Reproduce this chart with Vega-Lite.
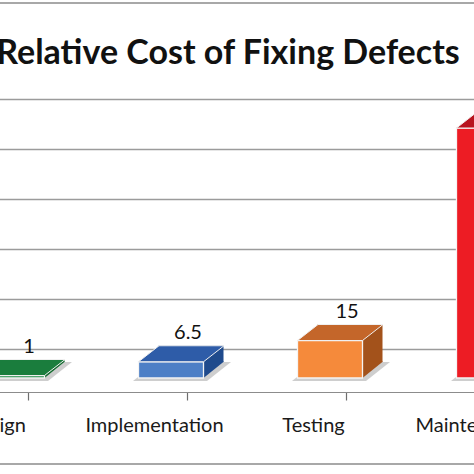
{
  "$schema": "https://vega.github.io/schema/vega-lite/v6.json",
  "width": 474,
  "height": 300,
  "autosize": {"type": "none"},
  "padding": {"top": 99, "left": 0, "right": 0, "bottom": 75},
  "background": "#ffffff",
  "config": {"view": {"stroke": null}, "font": "Lato"},
  "title": {
    "text": "Relative Cost of Fixing Defects",
    "font": "Lato",
    "fontSize": 34,
    "fontWeight": "bold",
    "color": "#111111",
    "anchor": "middle",
    "frame": "group",
    "baseline": "alphabetic",
    "offset": 0,
    "dy": 96,
    "dx": -9
  },
  "data": {
    "values": [
      {"stage": "Design", "cost": 1},
      {"stage": "Implementation", "cost": 6.5},
      {"stage": "Testing", "cost": 15},
      {"stage": "Maintenance", "cost": 100}
    ]
  },
  "resolve": {"scale": {"color": "independent"}},
  "layer": [
    {
      "mark": {"type": "point", "shape": "M -38 3 L 36 3 L 60 -16 L -14 -16 Z", "size": 4, "filled": true, "opacity": 0.9, "color": "#c9c9c9", "strokeWidth": 0, "xOffset": 17, "yOffset": -21},
      "encoding": {
        "x": {
          "field": "stage", "type": "nominal", "sort": null,
          "scale": {"domain": ["Design", "Implementation", "Testing", "Maintenance"], "range": [-84.5, 551.5], "paddingInner": 0.59, "paddingOuter": 0.295},
          "axis": {"title": null, "orient": "bottom", "offset": -7, "domainColor": "#8c8c8c", "domainWidth": 1.2, "tickColor": "#6e6e6e", "tickSize": 8, "tickWidth": 1.2, "tickBand": "extent", "labelFont": "Lato", "labelFontSize": 20, "labelColor": "#1a1a1a", "labelPadding": 15, "labelAngle": 0, "labelOverlap": false, "labelBound": false}
        },
        "y": {"datum": 0, "type": "quantitative"}
      }
    },
    {
      "mark": {"type": "bar", "width": 65, "xOffset": 37, "yOffset": -37, "y2Offset": -37},
      "encoding": {
        "x": {"field": "stage", "type": "nominal", "sort": null},
        "y": {
          "field": "cost", "type": "quantitative",
          "scale": {"domain": [0, 120], "nice": false, "zero": true},
          "axis": {"values": [20, 40, 60, 80, 100, 120], "grid": true, "gridColor": "#9b9b9b", "gridWidth": 1.5, "labels": false, "ticks": false, "domain": false, "title": null}
        },
        "color": {"field": "stage", "type": "nominal", "legend": null, "scale": {"domain": ["Design", "Implementation", "Testing", "Maintenance"], "range": ["#146b30", "#1f4a8c", "#a3521b", "#a8101c"]}}
      }
    },
    {
      "mark": {"type": "point", "shape": "M 32.5 0 L 32.5 -16.5 L 53 -16.5 Z", "size": 4, "filled": true, "opacity": 1, "strokeWidth": 0, "xOffset": 17, "yOffset": -21},
      "encoding": {
        "x": {"field": "stage", "type": "nominal", "sort": null},
        "y": {"datum": 0, "type": "quantitative"},
        "color": {"field": "stage", "type": "nominal", "legend": null, "scale": {"domain": ["Design", "Implementation", "Testing", "Maintenance"], "range": ["#146b30", "#1f4a8c", "#a3521b", "#a8101c"]}}
      }
    },
    {
      "mark": {"type": "bar", "width": 65, "xOffset": 17, "yOffset": -21, "y2Offset": -21, "stroke": "#f4f4f4", "strokeWidth": 1.3},
      "encoding": {
        "x": {"field": "stage", "type": "nominal", "sort": null},
        "y": {"field": "cost", "type": "quantitative"},
        "color": {"field": "stage", "type": "nominal", "legend": null, "scale": {"domain": ["Design", "Implementation", "Testing", "Maintenance"], "range": ["#1c8a45", "#4d7fc6", "#f58a3b", "#ed1c24"]}}
      }
    },
    {
      "mark": {"type": "point", "shape": "M -32.5 0 L 32.5 0 L 53 -16 L -12 -16 Z", "size": 4, "filled": true, "opacity": 1, "stroke": "#f0f0f0", "strokeWidth": 1, "xOffset": 17, "yOffset": -21},
      "encoding": {
        "x": {"field": "stage", "type": "nominal", "sort": null},
        "y": {"field": "cost", "type": "quantitative"},
        "color": {"field": "stage", "type": "nominal", "legend": null, "scale": {"domain": ["Design", "Implementation", "Testing", "Maintenance"], "range": ["#1a7d3d", "#2e5ca8", "#c4662a", "#b8141f"]}}
      }
    },
    {
      "mark": {"type": "text", "dx": 34, "dy": -44, "baseline": "alphabetic", "align": "center", "font": "Lato", "fontSize": 20, "color": "#111111"},
      "encoding": {
        "x": {"field": "stage", "type": "nominal", "sort": null},
        "y": {"field": "cost", "type": "quantitative"},
        "text": {"field": "cost", "type": "quantitative"}
      }
    },
    {
      "data": {"values": [{"edge": 158.4}, {"edge": -26}]},
      "mark": {"type": "rule", "color": "#a8a8a8", "strokeWidth": 2},
      "encoding": {
        "y": {"field": "edge", "type": "quantitative"}
      }
    }
  ]
}
